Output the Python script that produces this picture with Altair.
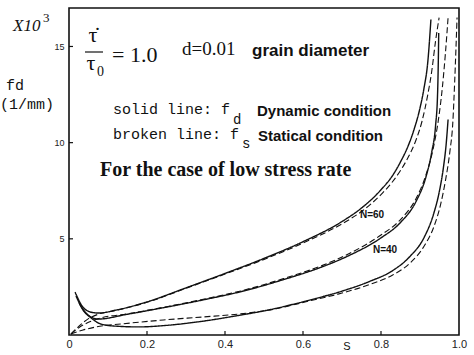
import altair as alt
import pandas as pd

# ---- data (S, fd x10^3 1/mm) ----
n60_solid_s = [0.0155, 0.0335, 0.054, 0.075, 0.126, 0.2, 0.3, 0.4, 0.5, 0.6, 0.7, 0.75, 0.8, 0.83, 0.85, 0.87, 0.885, 0.9, 0.91, 0.92, 0.928]
n60_solid_f = [2.23, 1.51, 1.20, 1.14, 1.32, 1.72, 2.45, 3.2, 3.98, 4.85, 5.9, 6.6, 7.55, 8.3, 9.0, 9.85, 10.7, 11.8, 12.8, 14.2, 16.4]
n60_broken_s = [0.005, 0.025, 0.05, 0.075, 0.126, 0.2, 0.3, 0.4, 0.5, 0.6, 0.7, 0.75, 0.8, 0.83, 0.85, 0.87, 0.89, 0.905, 0.92, 0.93, 0.94, 0.949]
n60_broken_f = [0.05, 0.45, 0.85, 1.08, 1.30, 1.70, 2.43, 3.17, 3.93, 4.78, 5.78, 6.42, 7.3, 7.98, 8.55, 9.25, 10.15, 11.1, 12.5, 13.7, 15.3, 16.5]

n40_solid_s = [0.026, 0.041, 0.062, 0.075, 0.15, 0.25, 0.35, 0.45, 0.55, 0.65, 0.72, 0.8, 0.85, 0.89, 0.915, 0.93, 0.94, 0.945, 0.947, 0.948]
n40_solid_f = [1.66, 1.20, 0.88, 0.83, 1.08, 1.45, 1.85, 2.3, 2.88, 3.55, 4.15, 5.05, 5.85, 6.95, 8.2, 9.5, 10.9, 12.5, 14.3, 15.7]
n40_broken_s = [0.005, 0.025, 0.05, 0.075, 0.15, 0.25, 0.35, 0.45, 0.55, 0.65, 0.72, 0.8, 0.85, 0.89, 0.915, 0.935, 0.948, 0.957, 0.965, 0.972]
n40_broken_f = [0.05, 0.38, 0.66, 0.85, 1.1, 1.47, 1.88, 2.34, 2.93, 3.62, 4.25, 5.2, 6.0, 7.1, 8.3, 9.8, 11.3, 12.8, 14.6, 16.5]

n20_solid_s = [0.018, 0.036, 0.057, 0.082, 0.113, 0.178, 0.25, 0.33, 0.43, 0.53, 0.61, 0.7, 0.77, 0.83, 0.875, 0.91, 0.935, 0.95, 0.96, 0.967, 0.972]
n20_solid_f = [2.03, 1.30, 0.88, 0.57, 0.47, 0.42, 0.5, 0.68, 1.0, 1.38, 1.78, 2.28, 2.78, 3.35, 4.1, 5.05, 6.3, 7.5, 8.7, 9.9, 11.2]
n20_broken_s = [0.005, 0.036, 0.07, 0.157, 0.242, 0.345, 0.436, 0.53, 0.61, 0.7, 0.77, 0.83, 0.875, 0.91, 0.935, 0.953, 0.965, 0.977, 0.984, 0.989, 0.995]
n20_broken_f = [0.05, 0.26, 0.42, 0.62, 0.78, 0.94, 1.09, 1.36, 1.74, 2.18, 2.62, 3.12, 3.75, 4.6, 5.6, 6.8, 8.0, 9.6, 11.0, 13.2, 16.5]

x_ticks = [0, 0.2, 0.4, 0.6, 0.8, 1.0]
y_ticks = [5, 10, 15]

series = [
    ("N60", "solid", n60_solid_s, n60_solid_f),
    ("N60", "broken", n60_broken_s, n60_broken_f),
    ("N40", "solid", n40_solid_s, n40_solid_f),
    ("N40", "broken", n40_broken_s, n40_broken_f),
    ("N20", "solid", n20_solid_s, n20_solid_f),
    ("N20", "broken", n20_broken_s, n20_broken_f),
]
rows = []
for name, style, xs, ys in series:
    for i, (a, b) in enumerate(zip(xs, ys)):
        rows.append({"curve": name + style, "style": style, "s": a, "f": b, "order": i})
df = pd.DataFrame(rows)

W, H = 390, 327
INK = "#111111"

x_scale = alt.Scale(domain=[0, 1], nice=False)
y_scale = alt.Scale(domain=[0, 17], nice=False)
x_axis = alt.Axis(values=x_ticks, ticks=False, domain=False, grid=False, title=None,
                  labelExpr="datum.value == 0 ? '0' : format(datum.value, '.1f')",
                  labelFont="Liberation Sans", labelFontSize=11, labelColor="#222",
                  labelPadding=3, labelFlush=False)
y_axis = alt.Axis(values=y_ticks, ticks=False, domain=False, grid=False, title=None,
                  labelFont="Liberation Sans", labelFontSize=9, labelColor="#222",
                  labelPadding=5)

lines = alt.Chart(df).mark_line(color=INK, interpolate="monotone").encode(
    x=alt.X("s:Q", scale=x_scale, axis=x_axis),
    y=alt.Y("f:Q", scale=y_scale, axis=y_axis),
    detail="curve:N",
    order="order:Q",
    strokeDash=alt.StrokeDash("style:N", scale=alt.Scale(domain=["solid", "broken"], range=[[1, 0], [6, 3]]), legend=None),
    strokeWidth=alt.StrokeWidth("style:N", scale=alt.Scale(domain=["solid", "broken"], range=[1.4, 1.1]), legend=None),
)

ytick_marks = alt.Chart(pd.DataFrame({"f": y_ticks})).mark_rule(color=INK, strokeWidth=1.2).encode(
    y=alt.Y("f:Q", scale=y_scale, axis=y_axis), x=alt.value(0), x2=alt.value(4))
xtick_marks = alt.Chart(pd.DataFrame({"s": x_ticks[1:-1]})).mark_rule(color=INK, strokeWidth=1.2).encode(
    x=alt.X("s:Q", scale=x_scale, axis=x_axis), y=alt.value(H), y2=alt.value(H - 4))

one = pd.DataFrame({"k": [0]})


def txt(s, x, y, size, font, weight="normal", style="normal", align="left"):
    return alt.Chart(one).mark_text(text=s, align=align, baseline="alphabetic", font=font,
                                    fontSize=size, fontWeight=weight, fontStyle=style,
                                    color=INK).encode(x=alt.value(x), y=alt.value(y))


SERIF, SANS, MONO = "Liberation Serif", "Liberation Sans", "Liberation Mono"

texts = [
    txt("X10", -56, 23, 17, SERIF, style="italic"),
    txt("3", -26, 14, 13, SERIF),
    txt("fd", -63, 82, 15, MONO),
    txt("(1/mm)", -69, 101, 15, MONO),
    txt("\u03c4\u0307", 24, 34, 22, SERIF, align="center"),
    txt("\u03c4", 22, 62, 22, SERIF, align="center"),
    txt("0", 28, 68, 14, SERIF),
    txt("= 1.0", 43, 54, 22, SERIF),
    txt("d=0.01", 113, 47, 19, SERIF),
    txt("grain diameter", 183, 48, 17, SANS, weight="bold"),
    txt("solid line: f", 44, 106, 15, MONO),
    txt("d", 164, 116, 14, MONO),
    txt("Dynamic condition", 188, 108, 15, SANS, weight="bold"),
    txt("broken line: f", 44, 131, 15, MONO),
    txt("s", 173, 140, 14, MONO),
    txt("Statical condition", 189, 133, 15, SANS, weight="bold"),
    txt("For the case of low stress rate", 31, 168, 20, SERIF, weight="bold"),
    txt("N=60", 291, 210, 10, SANS, weight="bold"),
    txt("N=40", 304, 245, 10, SANS, weight="bold"),
    txt("S", 278, 342, 11, SANS, align="center"),
]

frac_bar = alt.Chart(one).mark_rule(color=INK, strokeWidth=1.2).encode(
    x=alt.value(16), x2=alt.value(34), y=alt.value(44))

chart = alt.layer(lines, ytick_marks, xtick_marks, frac_bar, *texts).properties(
    width=W, height=H,
    padding={"left": 69, "top": 8, "right": 474 - 69 - W, "bottom": 355 - 8 - H},
    autosize="none",
    background="white",
).configure_view(stroke=INK, strokeWidth=1.6)

chart.save("out.html", embed_options={"renderer": "svg", "actions": False})
